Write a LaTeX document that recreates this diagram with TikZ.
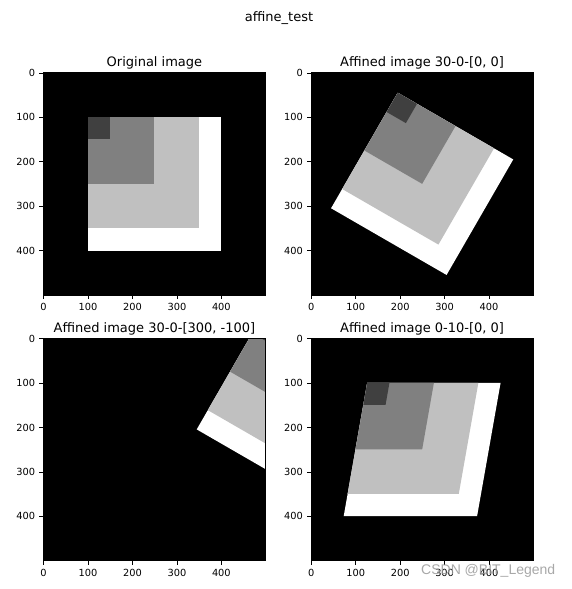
\documentclass[tikz,border=0pt]{standalone}
\usepackage{fontspec}
\setmainfont{DejaVu Sans}
\newfontfamily\markfont{Liberation Sans}
\usepackage{tikz}
\definecolor{imgdark}{RGB}{64,64,64}
\definecolor{imgmid}{RGB}{128,128,128}
\definecolor{imglight}{RGB}{192,192,192}
\definecolor{imgwhite}{RGB}{255,255,255}
\def\pixscale{0.4446}
\tikzset{
    spine/.style={line width=0.8bp, black},
    tickline/.style={line width=0.8bp, black},
    ticklbl/.style={inner sep=0pt, font=\fontsize{9.8bp}{11bp}\selectfont},
    paneltitle/.style={inner sep=0pt, anchor=base, font=\fontsize{13bp}{15bp}\selectfont},
    watermark/.style={inner sep=0pt, anchor=west, text=black!40, opacity=0.85,
        font=\markfont\fontsize{14bp}{16bp}\selectfont}
}
% #1 name, #2/#3 top left corner, #4 title, #5 transform of the image
\newcommand{\imgpanel}[5]{%
    \begin{scope}[shift={(#2,#3)}, scale=\pixscale]
        \fill[black] (0,0) rectangle (500,500);
        \begin{scope}
            \clip (0,0) rectangle (500,500);
            \begin{scope}[#5]
                \foreach \s/\c in {400/imgwhite, 350/imglight, 250/imgmid, 150/imgdark}
                    \fill[\c] (100,100) rectangle (\s,\s);
            \end{scope}
        \end{scope}
        \draw[spine] (0,0) rectangle (500,500);
        \foreach \v in {0,100,...,400} {
            \draw[tickline] (\v+0.5,500) -- ++(0,4/\pixscale);
            \draw[tickline] (0,\v+0.5) -- ++(-4/\pixscale,0);
            \node[ticklbl, anchor=north] (#1x\v) at (\v+0.5,500+8/\pixscale) {\v};
            \node[ticklbl, anchor=east] (#1y\v) at (-8/\pixscale,\v+0.5) {\v};
        }
        \node[paneltitle] (#1t) at (250,-6.3/\pixscale) {#4};
    \end{scope}
}

\begin{document}
\begin{tikzpicture}[x=1bp, y=-1bp]
	\useasboundingbox (0,0) rectangle (572,589);
	\fill[white] (0,0) rectangle (572,589);
	\pgfmathsetmacro{\shear}{tan(10)}
	
	\node[paneltitle] (suptitle) at (279,21.5) {affine\_test};
	
	\imgpanel{orig}{43.3}{72.7}{Original image}{}
	\imgpanel{rot}{311}{72.7}{Affined image 30-0-[0, 0]}{rotate around={-30:(250,250)}}
	\imgpanel{move}{43.3}{338.3}{Affined image 30-0-[300, -100]}{shift={(300,-100)}, rotate around={-30:(250,250)}}
	\imgpanel{slant}{311}{338.3}{Affined image 0-10-[0, 0]}{shift={(250*\shear,0)}, xslant=\shear}
	
	\node[watermark] (csdn) at (421,571) {CSDN @BIT\_Legend};
	
\end{tikzpicture}
\end{document}
